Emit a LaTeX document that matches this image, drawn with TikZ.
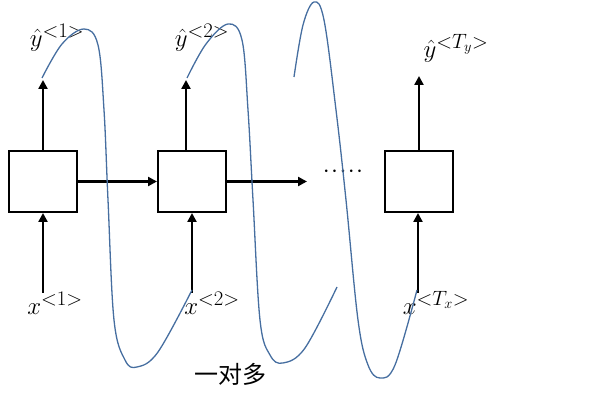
\documentclass[tikz,border=0pt]{standalone}
\usepackage{fontspec}
\newfontfamily\cjk{Noto Sans CJK SC}
\usetikzlibrary{arrows.meta}
\begin{document}
\begin{tikzpicture}[x=1pt,y=-1pt,
  box/.style={draw,line width=2pt,minimum width=68pt,minimum height=61pt,inner sep=0},
  arr/.style={-{Triangle[length=9pt,width=9pt]},line width=2.6pt},
  lab/.style={font=\fontsize{30}{36}\selectfont,inner sep=0},
  wave/.style={line width=1.3pt,color={rgb,255:red,70;green,110;blue,160}}]
\useasboundingbox (0,0) rectangle (605,411);
\node[box] (b1) at (43,181.5) {};
\node[box] (b2) at (192,181.5) {};
\node[box] (b3) at (419,181.5) {};
\node[font=\fontsize{28}{30}\selectfont] (d) at (343,172) {$\cdot\!\cdot\!\cdot\!\cdot\!\cdot$};
\coordinate (e2) at (307,181.5);
\node[lab] (y1) at (57,38) {$\hat y^{<1>}$};
\node[lab] (y2) at (202,38) {$\hat y^{<2>}$};
\node[lab] (y3) at (456,48) {$\hat y^{<T_y>}$};
\node[lab] (x1) at (55,303) {$x^{<1>}$};
\node[lab] (x2) at (212,303) {$x^{<2>}$};
\node[lab] (x3) at (436,303) {$x^{<T_x>}$};
\coordinate (t1) at (43,80); \coordinate (t2) at (186,80); \coordinate (t3) at (419,76);
\coordinate (s1) at (43,293); \coordinate (s2) at (192,293); \coordinate (s3) at (418,293);
\draw[arr] (b1.north) -- (t1);
\draw[arr] (t2 |- b2.north) -- (t2);
\draw[arr] (b3.north) -- (t3);
\draw[arr] (s1) -- (b1.south);
\draw[arr] (s2) -- (b2.south);
\draw[arr] (s3) -- (s3 |- b3.south);
\draw[arr] (b1.east) -- (b2.west);
\draw[arr] (b2.east) -- (e2);
\node[font=\cjk\fontsize{24}{28}\selectfont] (t) at (230,374) {一对多};
\draw[wave] plot[smooth,tension=0.6] coordinates {(42,78) (62,44) (84,29) (98,45) (104,110) (108,200) (114,320) (125,360) (137,367) (158,352) (192,290)};
\draw[wave] plot[smooth,tension=0.6] coordinates {(187,78) (206,44) (228,24) (242,40) (248,110) (253,200) (260,320) (270,355) (283,363) (305,348) (337,287)};
\draw[wave] plot[smooth,tension=0.6] coordinates {(294,77) (303,25) (314,2) (324,20) (336,110) (346,200) (358,320) (368,365) (380,378) (395,365) (417,290)};
\end{tikzpicture}
\end{document}
